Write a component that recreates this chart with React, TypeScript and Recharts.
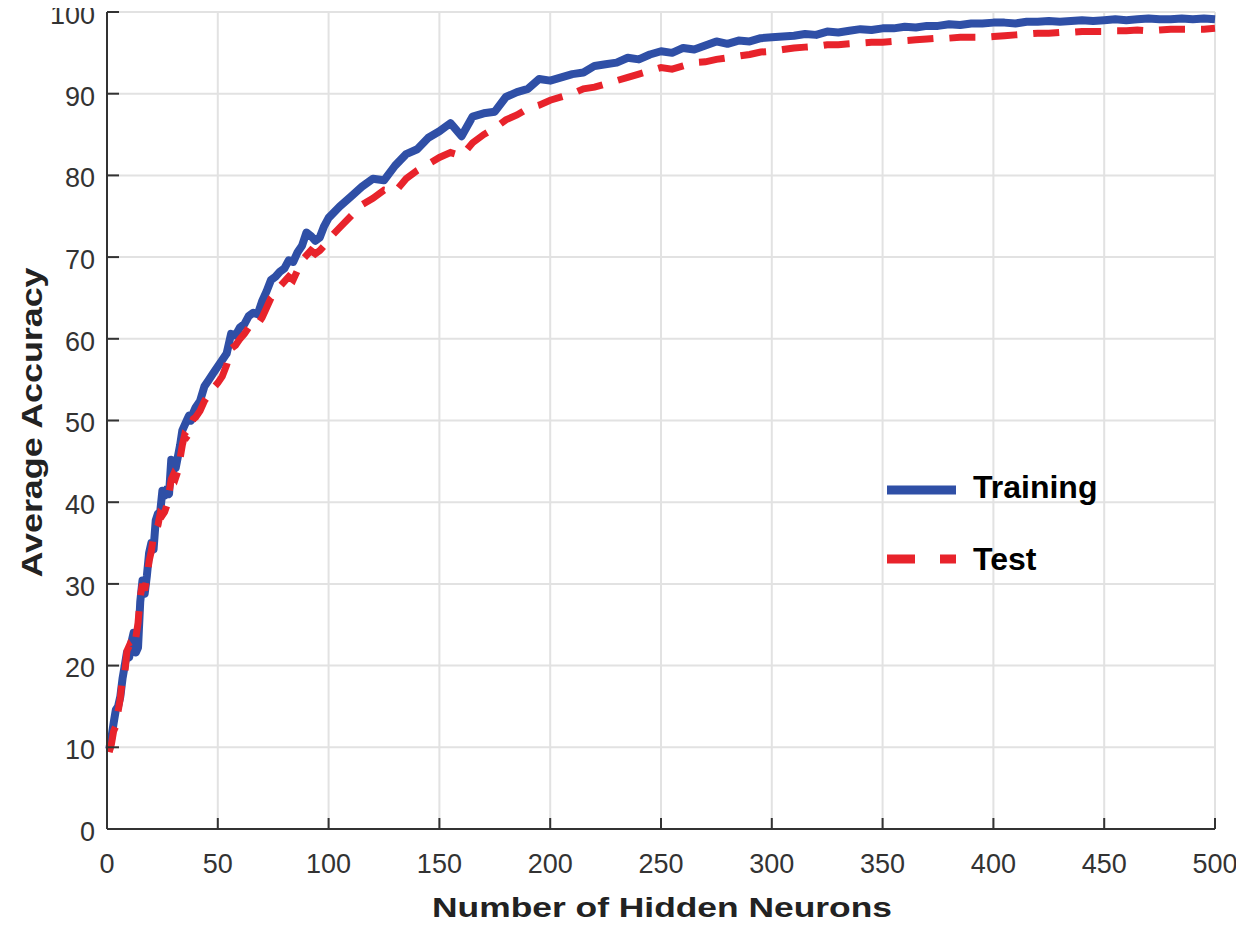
import React from "react";
import { LineChart, Line, XAxis, YAxis, CartesianGrid, Legend } from "recharts";

// hidden neuron counts (x)
const neurons = [
  1, 2, 3, 4, 5, 6, 7, 8, 9, 10, 11, 12, 13, 14, 15, 16, 17, 18, 19, 20,
  21, 22, 23, 24, 25, 26, 27, 28, 29, 30, 31, 32, 33, 34, 35, 36, 37, 38, 39, 40,
  42, 44, 46, 48, 50, 52, 54, 56, 58, 60, 62, 64, 66, 68, 70, 72, 74, 76, 78, 80,
  82, 84, 86, 88, 90, 92, 94, 96, 98, 100,
  105, 110, 115, 120, 125, 130, 135, 140, 145, 150, 155, 160, 165, 170, 175, 180,
  185, 190, 195, 200, 205, 210, 215, 220, 225, 230, 235, 240, 245, 250, 255, 260,
  265, 270, 275, 280, 285, 290, 295, 300, 305, 310, 315, 320, 325, 330, 335, 340,
  345, 350, 355, 360, 365, 370, 375, 380, 385, 390, 395, 400, 405, 410, 415, 420,
  425, 430, 435, 440, 445, 450, 455, 460, 465, 470, 475, 480, 485, 490, 495, 500,
];

const training = [
  9.8, 11.2, 13.0, 14.6, 15.0, 16.2, 18.4, 20.0, 21.6, 21.0, 22.8, 24.0, 21.6, 22.2, 27.8, 30.4, 28.8, 31.0, 33.8, 35.0,
  34.2, 37.8, 38.6, 38.8, 41.4, 40.8, 41.6, 41.0, 45.2, 44.6, 44.2, 45.6, 47.0, 48.8, 49.4, 50.0, 50.6, 50.0, 51.0, 51.6,
  52.4, 54.2, 55.0, 55.8, 56.6, 57.4, 58.2, 60.6, 60.4, 61.4, 61.8, 62.8, 63.2, 63.0, 64.6, 65.8, 67.2, 67.6, 68.2, 68.6,
  69.6, 69.4, 70.6, 71.4, 73.0, 72.6, 72.0, 72.4, 73.8, 74.8,
  76.2, 77.4, 78.6, 79.6, 79.4, 81.2, 82.6, 83.2, 84.6, 85.4, 86.4, 84.8, 87.2, 87.6, 87.8, 89.6,
  90.2, 90.6, 91.8, 91.6, 92.0, 92.4, 92.6, 93.4, 93.6, 93.8, 94.4, 94.2, 94.8, 95.2, 95.0, 95.6,
  95.4, 95.9, 96.4, 96.1, 96.5, 96.4, 96.8, 96.9, 97.0, 97.1, 97.3, 97.2, 97.6, 97.5, 97.7, 97.9,
  97.8, 98.0, 98.0, 98.2, 98.1, 98.3, 98.3, 98.5, 98.4, 98.6, 98.6, 98.7, 98.7, 98.6, 98.8, 98.8,
  98.9, 98.8, 98.9, 99.0, 98.9, 99.0, 99.1, 99.0, 99.1, 99.2, 99.1, 99.1, 99.2, 99.1, 99.2, 99.1,
];

const test = [
  9.4, 10.4, 12.0, 12.6, 14.4, 16.0, 18.6, 19.0, 21.8, 22.4, 22.0, 22.6, 23.4, 25.2, 28.4, 30.0, 29.2, 30.8, 32.8, 34.0,
  35.8, 36.6, 37.2, 38.6, 38.4, 38.8, 39.6, 41.2, 42.8, 43.4, 43.0, 43.8, 45.4, 47.0, 48.2, 48.0, 48.4, 49.6, 50.2, 50.4,
  51.2, 52.4, 53.2, 54.0, 54.6, 55.4, 56.8, 58.8, 59.2, 60.0, 60.6, 61.4, 62.0, 61.8, 62.6, 63.8, 65.0, 65.6, 66.4, 67.0,
  67.6, 67.2, 68.4, 69.6, 70.2, 70.8, 70.4, 70.8, 71.4, 72.2,
  73.6, 75.0, 76.4, 77.2, 78.2, 78.0, 79.6, 80.6, 81.4, 82.2, 82.8, 82.4, 84.0, 85.0, 85.8, 86.8,
  87.4, 88.2, 88.6, 89.2, 89.6, 90.0, 90.6, 90.8, 91.2, 91.6, 92.0, 92.4, 92.8, 93.2, 93.0, 93.4,
  93.8, 93.9, 94.2, 94.4, 94.6, 94.8, 95.1, 95.2, 95.4, 95.6, 95.7, 95.8, 96.0, 96.0, 96.1, 96.2,
  96.3, 96.3, 96.4, 96.5, 96.6, 96.7, 96.8, 96.8, 96.9, 96.9, 96.9, 97.0, 97.1, 97.2, 97.3, 97.4,
  97.4, 97.5, 97.5, 97.6, 97.6, 97.6, 97.7, 97.7, 97.8, 97.7, 97.8, 97.9, 97.9, 97.9, 97.9, 98.0,
];

const xTicks = [0, 50, 100, 150, 200, 250, 300, 350, 400, 450, 500];
const yTicks = [0, 10, 20, 30, 40, 50, 60, 70, 80, 90, 100];

const data = neurons.map((n, i) => ({ n, training: training[i], test: test[i] }));

const BLUE = "#2f4fa6";
const RED = "#e8232b";
const FONT = "'Liberation Sans', Arial, Helvetica, sans-serif";

// ticks drawn inward, like the matlab figure
const XTick = (props: any) => {
  const { x, y, payload } = props;
  return (
    <g>
      <line x1={x} y1={y} x2={x} y2={y - 11} stroke="#333" strokeWidth={2} />
      <text x={x} y={y + 44} textAnchor="middle" fontFamily={FONT} fontSize={27} fill="#333">
        {payload.value}
      </text>
    </g>
  );
};

const YTick = (props: any) => {
  const { x, y, payload } = props;
  return (
    <g>
      <line x1={x} y1={y} x2={x + 12} y2={y} stroke="#333" strokeWidth={2} />
      <text x={x - 12} y={y} dy="0.44em" textAnchor="end" fontFamily={FONT} fontSize={27} fill="#333">
        {payload.value}
      </text>
    </g>
  );
};

const XTitle = (props: any) => {
  const vb = props.viewBox || { x: 107, y: 829, width: 1108, height: 96 };
  return (
    <text
      x={vb.x + vb.width / 2 + 1}
      y={vb.y + 88}
      textAnchor="middle"
      fontFamily={FONT}
      fontWeight="bold"
      fontSize={27}
      fill="#222"
      textLength={460}
      lengthAdjust="spacingAndGlyphs"
    >
      Number of Hidden Neurons
    </text>
  );
};

const YTitle = (props: any) => {
  const vb = props.viewBox || { x: 8, y: 12, width: 99, height: 817 };
  const cx = vb.x + 34;
  const cy = vb.y + vb.height / 2 + 2;
  return (
    <text
      x={cx}
      y={cy}
      transform={`rotate(-90 ${cx} ${cy})`}
      textAnchor="middle"
      fontFamily={FONT}
      fontWeight="bold"
      fontSize={30}
      fill="#222"
      textLength={310}
      lengthAdjust="spacingAndGlyphs"
    >
      Average Accuracy
    </text>
  );
};

const renderLegend = () => (
  <svg width={250} height={125}>
    <line x1={17} y1={30} x2={86} y2={30} stroke={BLUE} strokeWidth={9} />
    <text x={103} y={38} fontFamily={FONT} fontWeight="bold" fontSize={32} fill="#000">
      Training
    </text>
    <line x1={17} y1={99} x2={86} y2={99} stroke={RED} strokeWidth={9} strokeDasharray="28 25" />
    <text x={103} y={110} fontFamily={FONT} fontWeight="bold" fontSize={32} fill="#000">
      Test
    </text>
  </svg>
);

export default function App() {
  return (
    <div style={{ width: 1236, height: 925, marginTop: -8 }}>
      <LineChart width={1236} height={925} data={data} margin={{ top: 12, right: 29, bottom: 0, left: 0 }}>
        <CartesianGrid stroke="#e2e2e2" strokeWidth={2} />
        <XAxis
          dataKey="n"
          type="number"
          domain={[0, 500]}
          ticks={xTicks}
          height={96}
          tickSize={0}
          tickMargin={0}
          axisLine={{ stroke: "#333", strokeWidth: 2 }}
          tick={<XTick />}
          label={<XTitle />}
          interval={0}
        />
        <YAxis
          type="number"
          domain={[0, 100]}
          ticks={yTicks}
          width={99}
          tickSize={0}
          tickMargin={0}
          axisLine={{ stroke: "#333", strokeWidth: 2 }}
          tick={<YTick />}
          label={<YTitle />}
          interval={0}
        />
        <Legend
          layout="horizontal"
          align="center"
          verticalAlign="middle"
          content={renderLegend}
          wrapperStyle={{ left: 862, top: 460, width: 250, height: 125 }}
        />
        <Line
          type="linear"
          dataKey="training"
          stroke={BLUE}
          strokeWidth={8}
          dot={false}
          strokeLinejoin="round"
          isAnimationActive={false}
        />
        <Line
          type="linear"
          dataKey="test"
          stroke={RED}
          strokeWidth={7}
          strokeDasharray="26 16"
          dot={false}
          isAnimationActive={false}
        />
      </LineChart>
    </div>
  );
}
